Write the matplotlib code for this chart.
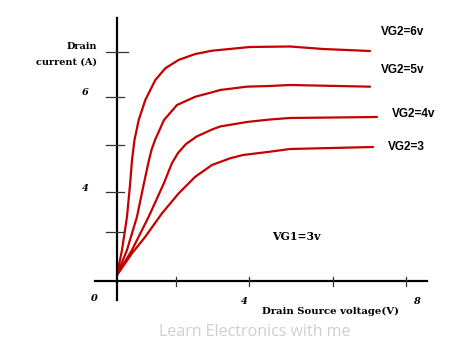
import matplotlib.pyplot as plt
import numpy as np

# drain characteristics (V, A)
vds_6 = [0, 0.152, 0.303, 0.4, 0.455, 0.53, 0.658, 0.858, 1.161, 1.464, 1.87, 2.373,
         2.879, 4.03, 5.242, 6.242, 7.667]
id_6 = [0.196, 1.011, 2.096, 3.195, 3.945, 4.597, 5.249, 5.902, 6.554, 6.935, 7.21, 7.401,
        7.509, 7.63, 7.646, 7.565, 7.499]

vds_5 = [0, 0.303, 0.606, 0.818, 0.97, 1.045, 1.152, 1.424, 1.818, 2.373, 2.879, 3.121,
         3.93, 4.636, 5.242, 7.667]
id_5 = [0.196, 1.011, 2.096, 3.195, 3.945, 4.271, 4.597, 5.249, 5.738, 6.009, 6.152, 6.227,
        6.336, 6.359, 6.391, 6.336]

vds_4 = [0, 0.455, 0.961, 1.424, 1.667, 1.848, 2.091, 2.415, 2.879, 3.121, 3.93, 4.636,
         5.242, 7.879]
id_4 = [0.196, 1.011, 2.096, 3.195, 3.847, 4.173, 4.467, 4.712, 4.939, 5.037, 5.184, 5.266,
        5.315, 5.347]

vds_3 = [0, 0.455, 0.858, 1.364, 1.87, 2.373, 2.879, 3.424, 3.818, 4.636, 5.242, 7.758]
id_3 = [0.196, 0.903, 1.444, 2.207, 2.859, 3.401, 3.782, 4.0, 4.108, 4.216, 4.304, 4.369]

curve_labels = ["VG2=6v", "VG2=5v", "VG2=4v", "VG2=3"]

xtick_pos = [1.79, 4.0, 6.55, 8.75]
ytick_pos = [7.47, 6.0, 4.43, 2.9, 1.6]
ytick_labels = ["", "6", "", "4", ""]

fig = plt.figure(figsize=(4.74, 3.51), dpi=100)
ax = fig.add_axes([0, 0, 1, 1])
ax.set_xlim(-3.545, 10.818)
ax.set_ylim(-2.282, 9.162)
ax.axis("off")

red = "#c40000"
curves = [(vds_6, id_6), (vds_5, id_5), (vds_4, id_4), (vds_3, id_3)]
for vx, iy in curves:
    ax.plot(vx, iy, color=red, lw=1.6, solid_capstyle="round", solid_joinstyle="round")

# hand-drawn style axes
ax.plot([-0.667, 9.39], [0, 0], color="black", lw=1.6)
ax.plot([0, 0], [-0.62, 8.58], color="black", lw=1.6)
for i, yt in enumerate(ytick_pos):
    right = 0.33 if i == 0 else 0.21
    ax.plot([-0.33, right], [yt, yt], color="#333333", lw=0.9)
for xt in xtick_pos:
    ax.plot([xt, xt], [-0.16, 0.13], color="#333333", lw=0.9)

num_font = dict(fontsize=7, fontweight="bold", style="italic", family="DejaVu Serif")
for yt, lab in zip(ytick_pos, ytick_labels):
    if lab:
        ax.text(-0.97, yt + 0.13, lab, ha="center", va="center", **num_font)
ax.text(-0.7, -0.58, "0", ha="center", va="center", **num_font)
ax.text(3.85, -0.68, "4", ha="center", va="center", **num_font)
ax.text(9.06, -0.68, "8", ha="center", va="center", **num_font)

lab_font = dict(fontweight="bold", family="DejaVu Serif")
ax.text(-0.6, 7.66, "Drain", ha="right", va="center", fontsize=7, **lab_font)
ax.text(-0.6, 7.14, "current (A)", ha="right", va="center", fontsize=7, **lab_font)
ax.text(8.55, -0.98, "Drain Source voltage(V)", ha="right", va="center",
        fontsize=7.3, **lab_font)
ax.text(5.44, 1.44, "VG1=3v", ha="center", va="center", fontsize=7.8, **lab_font)

label_xy = [(8.0, 8.12), (8.0, 6.88), (8.34, 5.44), (8.22, 4.37)]
for (lx, ly), lab in zip(label_xy, curve_labels):
    ax.text(lx, ly, lab, ha="left", va="center", fontsize=8.5,
            fontweight="bold", family="Liberation Sans")

fig.text(0.538, 0.054, "Learn Electronics with me", ha="center", va="center",
         fontsize=11.5, color="#cfcfcf", family="Open Sans")

fig.savefig("out.png", dpi=100)
